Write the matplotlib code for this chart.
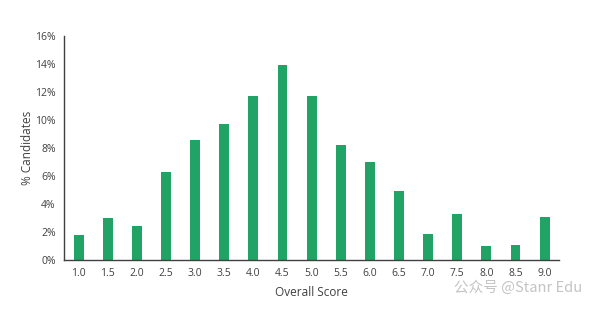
import matplotlib
matplotlib.use("Agg")
import matplotlib.pyplot as plt
from matplotlib.ticker import PercentFormatter

scores = ["1.0", "1.5", "2.0", "2.5", "3.0", "3.5", "4.0", "4.5", "5.0",
          "5.5", "6.0", "6.5", "7.0", "7.5", "8.0", "8.5", "9.0"]
pct = [1.8, 3.0, 2.45, 6.3, 8.6, 9.7, 11.7, 13.9, 11.7,
       8.2, 7.0, 4.9, 1.85, 3.3, 1.0, 1.1, 3.1]

plt.rcParams['font.family'] = ['Open Sans', 'DejaVu Sans']

fig = plt.figure(figsize=(5.93, 3.11), dpi=100)
ax = fig.add_axes([0.108, 0.164, 0.835, 0.72])
x = range(len(scores))
ax.bar(x, pct, width=0.34, color='#21a366')
ax.set_xlim(-0.5, len(scores) - 0.5)
ax.set_ylim(0, 16)
ax.set_yticks(range(0, 17, 2))
ax.yaxis.set_major_formatter(PercentFormatter(decimals=0))
ax.set_xticks(list(x))
ax.set_xticklabels(scores)
ax.tick_params(axis='both', length=0, labelsize=7.5, colors='#404040', pad=6)
for s in ['top', 'right']:
    ax.spines[s].set_visible(False)
for s in ['left', 'bottom']:
    ax.spines[s].set_color('#404040')
    ax.spines[s].set_linewidth(1.0)
ax.set_xlabel("Overall Score", fontsize=8.5, color='#404040', labelpad=5)
ax.set_ylabel("% Candidates", fontsize=8.5, color='#404040', labelpad=1)

fig.text(0.765, 0.075, "公众号 @Stanr Edu", fontsize=10.5, color='#c4c4c4',
         family=['Noto Sans CJK SC', 'DejaVu Sans'], va='center')

fig.savefig("out.png", dpi=100)
